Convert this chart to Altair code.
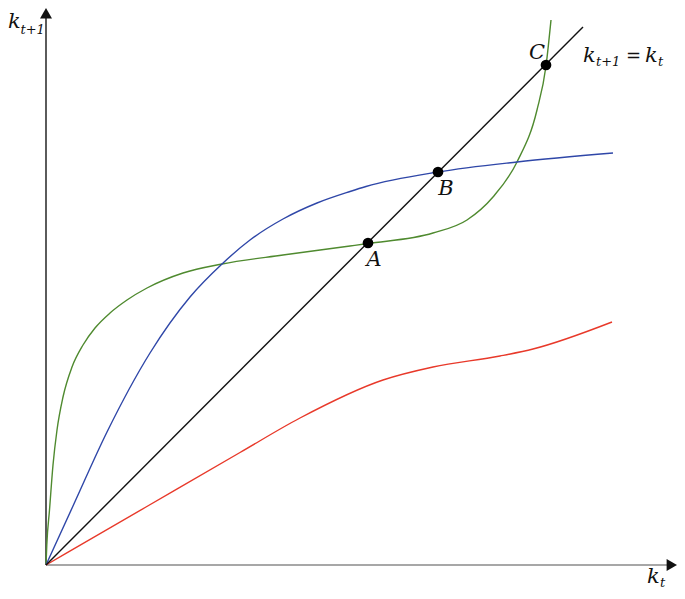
import altair as alt
import pandas as pd

# ---- data (units: k) ----
green_x = [0, 0.008, 0.035, 0.07, 0.11, 0.17, 0.26, 0.37, 0.49, 0.64, 0.81, 1.01, 1.37, 1.76, 2.37, 3.04, 3.22, 3.87, 4.21, 4.47, 4.71, 4.91, 5.00, 5.05]
green_y = [0, 0.20, 0.55, 1.00, 1.35, 1.68, 1.98, 2.20, 2.37, 2.52, 2.65, 2.77, 2.92, 3.01, 3.10, 3.19, 3.215, 3.32, 3.45, 3.68, 4.03, 4.55, 4.99, 5.45]

blue_x = [0, 0.27, 0.61, 1.04, 1.44, 1.76, 2.04, 2.37, 2.71, 3.04, 3.20, 3.92, 4.71, 5.67]
blue_y = [0, 0.59, 1.33, 2.12, 2.68, 3.01, 3.25, 3.46, 3.62, 3.735, 3.785, 3.93, 4.03, 4.12]

red_x = [0, 1.00, 1.94, 2.54, 3.37, 3.87, 4.54, 4.87, 5.66]
red_y = [0, 0.58, 1.125, 1.47, 1.85, 1.98, 2.09, 2.16, 2.43]

diag_x = [0, 5.37]
diag_y = [0, 5.38]

eq_names = ["A", "B", "C"]
eq_x = [3.22, 3.92, 5.00]
eq_y = [3.22, 3.93, 5.00]

X_MAX = 6.31
Y_MAX = 5.57

curves = pd.concat([
    pd.DataFrame({"s": "green", "x": green_x, "y": green_y, "o": range(len(green_x))}),
    pd.DataFrame({"s": "blue", "x": blue_x, "y": blue_y, "o": range(len(blue_x))}),
    pd.DataFrame({"s": "red", "x": red_x, "y": red_y, "o": range(len(red_x))}),
    pd.DataFrame({"s": "diag", "x": diag_x, "y": diag_y, "o": range(len(diag_x))}),
])

xs = alt.Scale(domain=[0, X_MAX], nice=False, zero=False)
ys = alt.Scale(domain=[0, Y_MAX], nice=False, zero=False)
X = lambda f="x": alt.X(f"{f}:Q", scale=xs, axis=None)
Y = lambda f="y": alt.Y(f"{f}:Q", scale=ys, axis=None)

lines = alt.Chart(curves).mark_line(interpolate="monotone", strokeWidth=1.4).encode(
    x=X(), y=Y(), detail="s:N", order="o:Q",
    color=alt.Color("s:N", legend=None,
                    scale=alt.Scale(domain=["green", "blue", "red", "diag"],
                                    range=["#4F8A2F", "#2F47A8", "#E8392A", "#111111"])),
)

axes_df = pd.DataFrame({
    "x": [0, 0], "y": [0, 0], "x2": [0, 6.23], "y2": [5.47, 0],
    "c": ["#333333", "#8a8a8a"],
})
axes = alt.Chart(axes_df).mark_rule(strokeWidth=1.6).encode(
    x=X(), y=Y(), x2="x2:Q", y2="y2:Q", color=alt.Color("c:N", scale=None))

arrows_df = pd.DataFrame({"x": [0, 6.258], "y": [5.518, 0], "shape": ["triangle-up", "triangle-right"]})
arrows = alt.Chart(arrows_df).mark_point(filled=True, size=144, color="#111111", opacity=1).encode(
    x=X(), y=Y(), shape=alt.Shape("shape:N", scale=None))

pts = alt.Chart(pd.DataFrame({"x": eq_x, "y": eq_y})).mark_point(
    filled=True, size=115, color="#000000", opacity=1).encode(x=X(), y=Y())

FONT = "DejaVu Serif"
lab_df = pd.DataFrame({"t": eq_names, "x": [3.28, 4.00, 4.91], "y": [3.05, 3.76, 5.12]})
labs = alt.Chart(lab_df).mark_text(font=FONT, fontStyle="italic", fontSize=21,
                                   align="center", baseline="middle", color="#111111").encode(
    x=X(), y=Y(), text="t:N")

main_df = pd.DataFrame({
    "t": ["k", "k", "k", "k"],
    "x": [-0.38, 5.37, 5.99, 6.01],
    "y": [5.37, 5.03, 5.03, -0.18],
})
main_txt = alt.Chart(main_df).mark_text(font=FONT, fontStyle="italic", fontSize=21, align="left",
                                        baseline="alphabetic", color="#111111").encode(
    x=X(), y=Y(), text="t:N")
eq_txt = alt.Chart(pd.DataFrame({"t": ["="], "x": [5.80], "y": [5.03]})).mark_text(
    font=FONT, fontSize=18, align="left", baseline="alphabetic", color="#111111").encode(
    x=X(), y=Y(), text="t:N")
sub_df = pd.DataFrame({
    "t": ["t+1", "t+1", "t", "t"],
    "x": [-0.255, 5.50, 6.12, 6.14],
    "y": [5.31, 4.99, 4.99, -0.22],
})
sub_txt = alt.Chart(sub_df).mark_text(font=FONT, fontStyle="italic", fontSize=13, align="left",
                                      baseline="alphabetic", color="#111111").encode(
    x=X(), y=Y(), text="t:N")

chart = alt.layer(axes, lines, arrows, pts, labs, main_txt, eq_txt, sub_txt).properties(
    width=631, height=557,
    autosize=alt.AutoSizeParams(type="none"),
    padding={"left": 38, "top": 0, "right": 0, "bottom": 26},
).configure_view(stroke=None)

chart.save("out.html", embed_options={"renderer": "svg", "actions": False})
